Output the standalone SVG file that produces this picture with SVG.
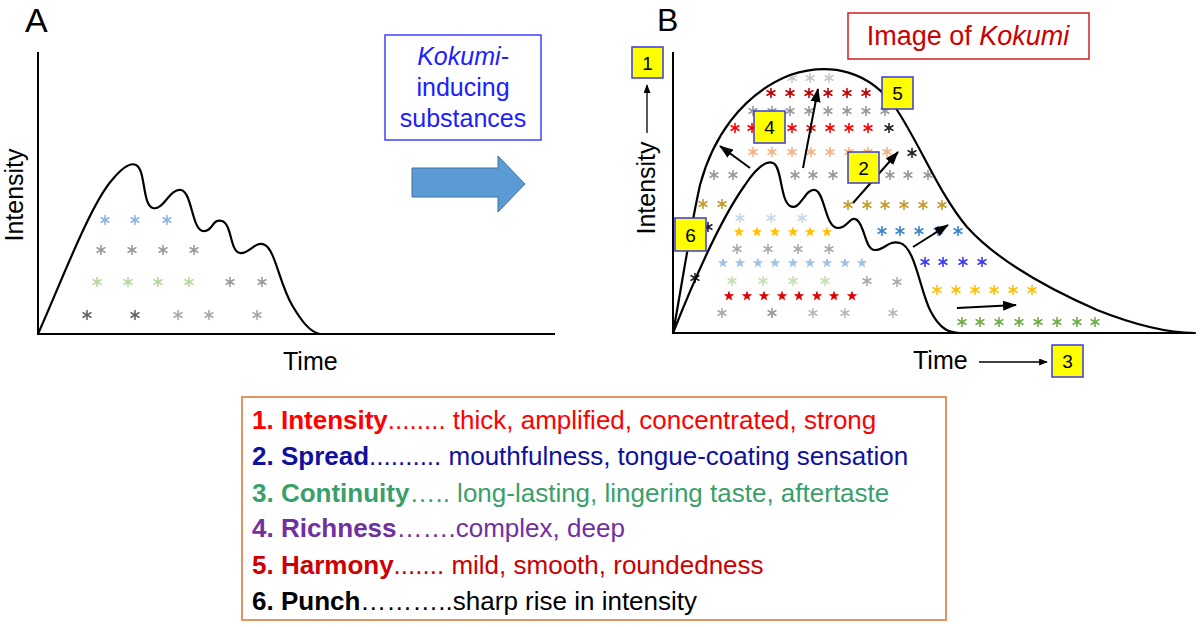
<svg xmlns="http://www.w3.org/2000/svg" width="1200" height="627" viewBox="0 0 1200 627">
<style>
text{font-family:"Liberation Sans",Arial,sans-serif}
.ax{stroke:#000;stroke-width:2;fill:none}
.cv{stroke:#000;stroke-width:2.2;fill:none;stroke-linecap:round;stroke-linejoin:round}
.ybox{fill:#ffff00;stroke:#3a3adc;stroke-width:1.5}
.num{font-size:19px;fill:#000;text-anchor:middle}
.arr{stroke:#000;stroke-width:2;fill:none}
.thin{stroke:#000;stroke-width:1.3;fill:none}
.leg{font-size:26px}
</style>
<defs>
<g id="ast"><path d="M0,-4.5V4.5M-3.9,-2.25L3.9,2.25M-3.9,2.25L3.9,-2.25" stroke="currentColor" stroke-width="1.6" stroke-linecap="round" fill="none"/></g>
<g id="st5"><polygon points="0,-5.5 1.35,-1.86 5.23,-1.7 2.19,0.71 3.23,4.45 0,2.3 -3.23,4.45 -2.19,0.71 -5.23,-1.7 -1.35,-1.86" fill="currentColor"/></g>
<marker id="ah" viewBox="0 0 14 10" refX="13" refY="5" markerWidth="14" markerHeight="10" markerUnits="userSpaceOnUse" orient="auto"><path d="M0,0L14,5L0,10z" fill="#000"/></marker>
<marker id="ahs" viewBox="0 0 10 8" refX="9" refY="4" markerWidth="9" markerHeight="7" markerUnits="userSpaceOnUse" orient="auto"><path d="M0,0L10,4L0,8z" fill="#000"/></marker>
</defs>
<rect width="1200" height="627" fill="#fff"/>

<!-- Panel A -->
<g id="panelA">
<text x="25" y="32" font-size="34">A</text>
<path class="ax" d="M38,52V334H555"/>
<text transform="translate(23,195) rotate(-90)" font-size="25" text-anchor="middle">Intensity</text>
<text x="283" y="370" font-size="25">Time</text>
<g id="starsA">
<use href="#ast" x="105" y="220" color="#8fb4e3"/><use href="#ast" x="135" y="220" color="#8fb4e3"/><use href="#ast" x="167" y="220" color="#8fb4e3"/>
<use href="#ast" x="101" y="250" color="#9a9a9a"/><use href="#ast" x="132" y="250" color="#9a9a9a"/><use href="#ast" x="163" y="250" color="#9a9a9a"/><use href="#ast" x="194" y="250" color="#9a9a9a"/>
<use href="#ast" x="97" y="282" color="#b5d99c"/><use href="#ast" x="128" y="282" color="#b5d99c"/><use href="#ast" x="158" y="282" color="#b5d99c"/><use href="#ast" x="189" y="282" color="#b5d99c"/><use href="#ast" x="230" y="282" color="#9a9a9a"/><use href="#ast" x="262" y="282" color="#9a9a9a"/>
<use href="#ast" x="87" y="315" color="#666"/><use href="#ast" x="135" y="315" color="#666"/><use href="#ast" x="178" y="315" color="#aaa"/><use href="#ast" x="209" y="315" color="#aaa"/><use href="#ast" x="257" y="315" color="#aaa"/>
</g>
<path class="cv" d="M38,334C60,285 90,205 112,180C122,168 130,162 136,165C146,170 142,205 153,208C163,211 170,188 181,190C192,192 192,230 203,231C213,232 212,218 222,221C232,224 230,252 240,253C250,254 255,240 265,245C275,250 280,285 292,305C302,322 310,332 320,334"/>
</g>

<!-- Kokumi-inducing substances box and arrow -->
<g id="inducer">
<rect x="385" y="35" width="156" height="105" fill="#fff" stroke="#4040ff" stroke-width="1.5"/>
<text x="463" y="65" font-size="25" fill="#2020ff" text-anchor="middle" font-style="italic">Kokumi-</text>
<text x="463" y="96" font-size="25" fill="#2020ff" text-anchor="middle">inducing</text>
<text x="463" y="127" font-size="25" fill="#2020ff" text-anchor="middle">substances</text>
</g>
<g id="bigArrow">
<polygon points="412,168 498,168 498,156 525,184 498,212 498,197 412,197" fill="#5b9bd5" stroke="#41719c" stroke-width="1"/>
</g>

<!-- Panel B -->
<g id="panelB">
<text x="657" y="31" font-size="32">B</text>
<path class="ax" d="M673,52V333H1195"/>
<text transform="translate(655,188) rotate(-90)" font-size="25" text-anchor="middle">Intensity</text>
<text x="913" y="369" font-size="25">Time</text>
<g id="starsB">
<use href="#ast" x="792" y="78" color="#c8c8c8"/><use href="#ast" x="810" y="78" color="#c8c8c8"/><use href="#ast" x="829" y="78" color="#c8c8c8"/>
<use href="#ast" x="771" y="93" color="#c00000"/><use href="#ast" x="790" y="93" color="#c00000"/><use href="#ast" x="809" y="93" color="#c00000"/><use href="#ast" x="828" y="93" color="#c00000"/><use href="#ast" x="847" y="93" color="#c00000"/><use href="#ast" x="866" y="93" color="#c00000"/>
<use href="#ast" x="753" y="111" color="#999"/><use href="#ast" x="772" y="111" color="#999"/><use href="#ast" x="790" y="111" color="#999"/><use href="#ast" x="809" y="111" color="#999"/><use href="#ast" x="828" y="111" color="#999"/><use href="#ast" x="847" y="111" color="#999"/><use href="#ast" x="866" y="111" color="#999"/><use href="#ast" x="885" y="111" color="#999"/>
<use href="#ast" x="735" y="128" color="#ff0000"/><use href="#ast" x="752" y="128" color="#ff0000"/><use href="#ast" x="792" y="128" color="#ff0000"/><use href="#ast" x="811" y="128" color="#ff0000"/><use href="#ast" x="830" y="128" color="#ff0000"/><use href="#ast" x="849" y="128" color="#ff0000"/><use href="#ast" x="868" y="128" color="#ff0000"/>
<use href="#ast" x="889" y="128" color="#222"/>
<use href="#ast" x="753" y="152" color="#f4b183"/><use href="#ast" x="772" y="152" color="#f4b183"/><use href="#ast" x="792" y="152" color="#f4b183"/><use href="#ast" x="811" y="152" color="#f4b183"/><use href="#ast" x="830" y="152" color="#f4b183"/><use href="#ast" x="849" y="152" color="#f4b183"/><use href="#ast" x="868" y="152" color="#f4b183"/><use href="#ast" x="887" y="152" color="#f4b183"/>
<use href="#ast" x="912" y="153" color="#222"/>
<use href="#ast" x="714" y="175" color="#999"/><use href="#ast" x="733" y="175" color="#999"/><use href="#ast" x="795" y="175" color="#999"/><use href="#ast" x="813" y="175" color="#999"/><use href="#ast" x="833" y="175" color="#999"/><use href="#ast" x="890" y="175" color="#999"/><use href="#ast" x="908" y="175" color="#999"/><use href="#ast" x="928" y="175" color="#999"/>
<use href="#ast" x="703" y="204" color="#c49a2c"/><use href="#ast" x="722" y="204" color="#c49a2c"/><use href="#ast" x="848" y="205" color="#c49a2c"/><use href="#ast" x="867" y="205" color="#c49a2c"/><use href="#ast" x="885" y="205" color="#c49a2c"/><use href="#ast" x="904" y="205" color="#c49a2c"/><use href="#ast" x="923" y="205" color="#c49a2c"/><use href="#ast" x="942" y="205" color="#c49a2c"/>
<use href="#ast" x="740" y="218" color="#c5d7ef"/><use href="#ast" x="771" y="218" color="#c5d7ef"/><use href="#ast" x="802" y="218" color="#c5d7ef"/>
<use href="#ast" x="708" y="227" color="#222"/>
<use href="#st5" x="739" y="232" color="#ffc000"/><use href="#st5" x="757" y="232" color="#ffc000"/><use href="#st5" x="775" y="232" color="#ffc000"/><use href="#st5" x="793" y="232" color="#ffc000"/><use href="#st5" x="810" y="232" color="#ffc000"/><use href="#st5" x="827" y="232" color="#ffc000"/>
<use href="#ast" x="882" y="231" color="#3f86c8"/><use href="#ast" x="900" y="231" color="#3f86c8"/><use href="#ast" x="919" y="231" color="#3f86c8"/><use href="#ast" x="938" y="231" color="#3f86c8"/><use href="#ast" x="958" y="231" color="#3f86c8"/>
<use href="#ast" x="737" y="249" color="#aaa"/><use href="#ast" x="768" y="249" color="#aaa"/><use href="#ast" x="798" y="249" color="#aaa"/><use href="#ast" x="829" y="249" color="#aaa"/>
<use href="#st5" x="723" y="263" color="#9dc3e6"/><use href="#st5" x="740" y="263" color="#9dc3e6"/><use href="#st5" x="758" y="263" color="#9dc3e6"/><use href="#st5" x="775" y="263" color="#9dc3e6"/><use href="#st5" x="793" y="263" color="#9dc3e6"/><use href="#st5" x="810" y="263" color="#9dc3e6"/><use href="#st5" x="827" y="263" color="#9dc3e6"/><use href="#st5" x="845" y="263" color="#9dc3e6"/><use href="#st5" x="862" y="263" color="#9dc3e6"/>
<use href="#ast" x="925" y="262" color="#3b3bf0"/><use href="#ast" x="943" y="262" color="#3b3bf0"/><use href="#ast" x="963" y="262" color="#3b3bf0"/><use href="#ast" x="982" y="262" color="#3b3bf0"/>
<use href="#ast" x="695" y="278" color="#222"/>
<use href="#ast" x="732" y="281" color="#c5e0b4"/><use href="#ast" x="763" y="281" color="#c5e0b4"/><use href="#ast" x="793" y="281" color="#c5e0b4"/><use href="#ast" x="825" y="281" color="#c5e0b4"/><use href="#ast" x="867" y="281" color="#aaa"/><use href="#ast" x="897" y="282" color="#aaa"/>
<use href="#ast" x="937" y="290" color="#ffc000"/><use href="#ast" x="956" y="290" color="#ffc000"/><use href="#ast" x="975" y="290" color="#ffc000"/><use href="#ast" x="994" y="290" color="#ffc000"/><use href="#ast" x="1013" y="290" color="#ffc000"/><use href="#ast" x="1032" y="290" color="#ffc000"/>
<use href="#st5" x="729" y="296" color="#e00000"/><use href="#st5" x="747" y="296" color="#e00000"/><use href="#st5" x="764" y="296" color="#e00000"/><use href="#st5" x="782" y="296" color="#e00000"/><use href="#st5" x="799" y="296" color="#e00000"/><use href="#st5" x="817" y="296" color="#e00000"/><use href="#st5" x="834" y="296" color="#e00000"/><use href="#st5" x="852" y="296" color="#e00000"/>
<use href="#ast" x="722" y="313" color="#aaa"/><use href="#ast" x="772" y="313" color="#999"/><use href="#ast" x="813" y="313" color="#bbb"/><use href="#ast" x="845" y="313" color="#bbb"/><use href="#ast" x="893" y="313" color="#bbb"/>
<use href="#ast" x="962" y="322" color="#70ad47"/><use href="#ast" x="980" y="322" color="#70ad47"/><use href="#ast" x="999" y="322" color="#70ad47"/><use href="#ast" x="1019" y="322" color="#70ad47"/><use href="#ast" x="1038" y="322" color="#70ad47"/><use href="#ast" x="1057" y="322" color="#70ad47"/><use href="#ast" x="1077" y="322" color="#70ad47"/><use href="#ast" x="1095" y="322" color="#70ad47"/>
</g>
<path class="cv" d="M673,333C681,290 690,230 700,185C712,140 740,95 790,75C830,62 870,70 897,110C920,145 940,195 967,227C995,258 1040,285 1097,310C1140,327 1170,333 1195,333"/>
<path class="cv" d="M673,333C690,290 720,220 745,185C755,170 765,160 773,163C782,166 780,200 790,206C800,212 805,188 815,190C825,192 825,228 838,228C848,228 850,215 857,220C865,226 865,250 875,250C885,250 888,240 900,243C915,247 920,290 930,310C940,330 950,333 960,333"/>
</g>

<!-- Connectors -->
<g id="connectors">
<line class="arr" x1="803" y1="168" x2="818" y2="89" marker-end="url(#ah)"/>
<line class="arr" x1="750" y1="168" x2="720" y2="146" marker-end="url(#ah)"/>
<line class="arr" x1="853" y1="203" x2="898" y2="152" marker-end="url(#ah)"/>
<line class="arr" x1="913" y1="247" x2="948" y2="225" marker-end="url(#ah)"/>
<line class="arr" x1="957" y1="308" x2="1016" y2="305" marker-end="url(#ah)"/>
<line class="thin" x1="647" y1="133" x2="647" y2="85" marker-end="url(#ahs)"/>
<line class="thin" x1="979" y1="362" x2="1047" y2="362" marker-end="url(#ahs)"/>
</g>

<!-- Title box -->
<g id="title">
<rect x="848" y="13" width="241" height="46" fill="#fff" stroke="#d02020" stroke-width="1.5"/>
<text x="968" y="45" font-size="27" fill="#cc0000" text-anchor="middle">Image of <tspan font-style="italic">Kokumi</tspan></text>
</g>

<!-- Numbered boxes -->
<g id="box1"><rect class="ybox" x="632" y="47" width="31" height="31"/><text class="num" x="647.5" y="69.5">1</text></g>
<g id="box5"><rect class="ybox" x="882" y="77" width="31" height="32"/><text class="num" x="897.5" y="100">5</text></g>
<g id="box4"><rect class="ybox" x="754" y="111" width="31" height="32"/><text class="num" x="769.5" y="134">4</text></g>
<g id="box2"><rect class="ybox" x="848" y="152" width="31" height="31"/><text class="num" x="863.5" y="174.5">2</text></g>
<g id="box6"><rect class="ybox" x="675" y="218" width="31" height="33"/><text class="num" x="690.5" y="241.5">6</text></g>
<g id="box3"><rect class="ybox" x="1052" y="345" width="31" height="32"/><text class="num" x="1067.5" y="368">3</text></g>

<!-- Legend -->
<g id="legend">
<rect x="242" y="397" width="704" height="223" fill="#fff" stroke="#e08a50" stroke-width="1.8"/>
<text class="leg" x="252" y="429" fill="#ff0000"><tspan font-weight="bold">1. Intensity</tspan>........ thick, amplified, concentrated, strong</text>
<text class="leg" x="252" y="465" fill="#10109e"><tspan font-weight="bold">2. Spread</tspan>.......... mouthfulness, tongue-coating sensation</text>
<text class="leg" x="252" y="502" fill="#3a9f6a"><tspan font-weight="bold">3. Continuity</tspan>….. long-lasting, lingering taste, aftertaste</text>
<text class="leg" x="252" y="537" fill="#7030a0"><tspan font-weight="bold">4. Richness</tspan>…….complex, deep</text>
<text class="leg" x="252" y="574" fill="#cc0000"><tspan font-weight="bold">5. Harmony</tspan>....... mild, smooth, roundedness</text>
<text class="leg" x="252" y="610" fill="#000"><tspan font-weight="bold">6. Punch</tspan>………..sharp rise in intensity</text>
</g>
</svg>
